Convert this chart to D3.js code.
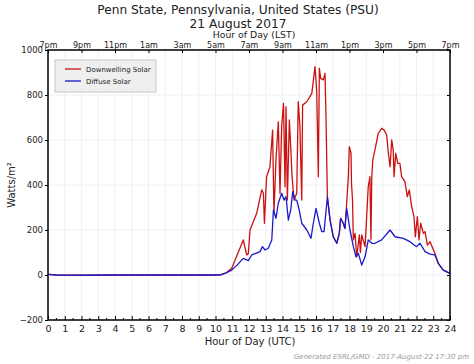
<!DOCTYPE html>
<html>
<head>
<meta charset="utf-8">
<script src="https://cdn.jsdelivr.net/npm/d3@7"></script>
<style>
  body { margin: 0; background: #fff; }
  svg text { font-family: "DejaVu Sans", sans-serif; fill: #222; }
</style>
</head>
<body>
<div id="wrapper"></div>
<script>
// data: [hour UTC, W/m2]
const downwelling = [
  [0, 3], [0.5, 0], [2, -1], [4, 0], [6, 0], [8, 0], [10, 0], [10.3, 1], [10.6, 8],
  [10.97, 30], [11.3, 90], [11.66, 156], [11.86, 89], [11.96, 95], [12.06, 200],
  [12.46, 274], [12.76, 378], [12.86, 363], [12.92, 230], [13.05, 437], [13.25, 481],
  [13.41, 644], [13.49, 274], [13.61, 511], [13.75, 681], [13.85, 363], [13.95, 659],
  [14.06, 763], [14.15, 392], [14.21, 748], [14.29, 333], [14.41, 689], [14.49, 570],
  [14.57, 437], [14.69, 333], [14.85, 363], [14.94, 770], [15.04, 659], [15.15, 333],
  [15.2, 755], [15.45, 770], [15.75, 807], [15.94, 926], [16.04, 822], [16.14, 437],
  [16.2, 919], [16.28, 874], [16.44, 867], [16.54, 896], [16.6, 689], [16.68, 348],
  [16.84, 244], [17.03, 170], [17.24, 141], [17.39, 185], [17.47, 252], [17.63, 230],
  [17.73, 207], [17.83, 319], [17.93, 437], [17.99, 570], [18.09, 541], [18.12, 407],
  [18.18, 333], [18.23, 156], [18.33, 185], [18.43, 81], [18.59, 178], [18.65, 100],
  [18.73, 178], [18.93, 126], [19.03, 267], [19.12, 392], [19.22, 437], [19.28, 156],
  [19.33, 437], [19.39, 511], [19.52, 556], [19.72, 630], [19.92, 652], [20.07, 644],
  [20.22, 622], [20.32, 541], [20.42, 481], [20.52, 600], [20.61, 556], [20.66, 437],
  [20.76, 541], [20.88, 496], [21.01, 496], [21.11, 437], [21.31, 415], [21.45, 348],
  [21.57, 378], [21.71, 304], [21.85, 259], [21.93, 170], [22.05, 259], [22.15, 156],
  [22.25, 230], [22.41, 185], [22.51, 193], [22.65, 133], [22.81, 148], [22.97, 119],
  [23.1, 96], [23.3, 52], [23.6, 22], [24, 7]
]

const diffuse = [
  [0, 3], [0.5, 0], [2, -1], [4, 0], [6, 0], [8, 0], [10, 0], [10.3, 1], [10.6, 8],
  [10.97, 22], [11.3, 45], [11.66, 74], [11.96, 64], [12.16, 89], [12.66, 104],
  [12.8, 126], [12.96, 111], [13.15, 119], [13.36, 156], [13.46, 289], [13.61, 252],
  [13.75, 319], [13.95, 363], [14.09, 333], [14.21, 348], [14.35, 244], [14.49, 289],
  [14.61, 370], [14.75, 333], [14.85, 333], [15.0, 289], [15.15, 230], [15.45, 200],
  [15.7, 163], [15.84, 230], [16.0, 296], [16.2, 230], [16.34, 193], [16.48, 193],
  [16.68, 348], [16.84, 244], [17.03, 170], [17.24, 141], [17.39, 185], [17.47, 252],
  [17.63, 230], [17.73, 207], [17.83, 296], [18.03, 200], [18.23, 126], [18.39, 81],
  [18.53, 96], [18.73, 44], [18.93, 81], [19.12, 156], [19.33, 141], [19.52, 141],
  [19.92, 156], [20.42, 200], [20.72, 170], [21.21, 163], [21.61, 148], [22.0, 126],
  [22.21, 141], [22.51, 104], [22.81, 93], [23.1, 89], [23.3, 52], [23.6, 22], [24, 7]
]

const utcTicks = d3.range(0, 25)
const lstLabels = ["7pm", "9pm", "11pm", "1am", "3am", "5am", "7am", "9am", "11am", "1pm", "3pm", "5pm", "7pm"]
const yTicks = [-200, 0, 200, 400, 600, 800, 1000]

async function drawChart() {
  const xAccessor = d => d[0]
  const yAccessor = d => d[1]

  let dimensions = {
    width: 474,
    height: 364,
    margin: { top: 50, right: 24, bottom: 44, left: 48 }
  }
  dimensions.boundedWidth = dimensions.width - dimensions.margin.left - dimensions.margin.right
  dimensions.boundedHeight = dimensions.height - dimensions.margin.top - dimensions.margin.bottom

  const wrapper = d3.select("#wrapper")
    .append("svg")
      .attr("width", dimensions.width)
      .attr("height", dimensions.height)

  const bounds = wrapper.append("g")
    .attr("transform", `translate(${dimensions.margin.left},${dimensions.margin.top})`)

  // scales
  const xScale = d3.scaleLinear()
    .domain([0, 24])
    .range([0, dimensions.boundedWidth])

  const yScale = d3.scaleLinear()
    .domain([-200, 1000])
    .range([dimensions.boundedHeight, 0])

  // grid
  bounds.append("g").selectAll("line")
    .data(utcTicks)
    .enter().append("line")
      .attr("x1", d => xScale(d)).attr("x2", d => xScale(d))
      .attr("y1", 0).attr("y2", dimensions.boundedHeight)
      .attr("stroke", "#ececf2").attr("stroke-width", 0.8)
  bounds.append("g").selectAll("line")
    .data(yTicks)
    .enter().append("line")
      .attr("x1", 0).attr("x2", dimensions.boundedWidth)
      .attr("y1", d => yScale(d)).attr("y2", d => yScale(d))
      .attr("stroke", "#ececf2").attr("stroke-width", 0.8)

  // lines
  const lineGenerator = d3.line()
    .x(d => xScale(xAccessor(d)))
    .y(d => yScale(yAccessor(d)))

  bounds.append("path")
    .attr("d", lineGenerator(downwelling))
    .attr("fill", "none")
    .attr("stroke", "#cc1111")
    .attr("stroke-width", 1.3)
    .attr("stroke-linejoin", "round")

  bounds.append("path")
    .attr("d", lineGenerator(diffuse))
    .attr("fill", "none")
    .attr("stroke", "#1a1acc")
    .attr("stroke-width", 1.3)
    .attr("stroke-linejoin", "round")

  // axes
  const xAxis = bounds.append("g")
    .attr("transform", `translate(0,${dimensions.boundedHeight})`)
    .call(d3.axisBottom(xScale).tickValues(utcTicks).tickFormat(d3.format("d"))
      .tickSizeInner(-4).tickSizeOuter(0).tickPadding(5))
  xAxis.select(".domain").remove()
  xAxis.selectAll(".tick line").attr("stroke", "#000")
  xAxis.selectAll("text").attr("font-size", 9.5).style("fill", "#222")

  // minor ticks
  bounds.append("g").selectAll("line")
    .data(d3.range(0.5, 24, 1))
    .enter().append("line")
      .attr("x1", d => xScale(d)).attr("x2", d => xScale(d))
      .attr("y1", dimensions.boundedHeight).attr("y2", dimensions.boundedHeight - 2)
      .attr("stroke", "#000")

  const topAxis = bounds.append("g")
    .call(d3.axisTop(xScale).tickValues(d3.range(0, 25, 2))
      .tickFormat((d, i) => lstLabels[i]).tickSizeInner(-3).tickSizeOuter(0).tickPadding(2))
  topAxis.select(".domain").remove()
  topAxis.selectAll("text").attr("font-size", 8).style("fill", "#222")

  const yAxis = bounds.append("g")
    .call(d3.axisLeft(yScale).tickValues(yTicks)
      .tickFormat(d => d < 0 ? "\u2212" + Math.abs(d) : d)
      .tickSizeInner(3).tickSizeOuter(0).tickPadding(2))
  yAxis.select(".domain").remove()
  yAxis.selectAll("text").attr("font-size", 8.5).style("fill", "#222")

  const yAxisRight = bounds.append("g")
    .attr("transform", `translate(${dimensions.boundedWidth},0)`)
    .call(d3.axisRight(yScale).tickValues(yTicks).tickFormat("")
      .tickSizeInner(-3).tickSizeOuter(0))
  yAxisRight.select(".domain").remove()

  // frame
  bounds.append("rect")
    .attr("width", dimensions.boundedWidth)
    .attr("height", dimensions.boundedHeight)
    .attr("fill", "none")
    .attr("stroke", "#000")
    .attr("stroke-width", 1.5)

  // legend
  const legend = bounds.append("g")
    .attr("transform", "translate(7,10)")
  legend.append("rect")
    .attr("width", 101).attr("height", 32)
    .attr("fill", "#efefef").attr("stroke", "#bbb").attr("stroke-width", 0.8)
  const legendItems = [["Downwelling Solar", "#cc1111"], ["Diffuse Solar", "#1a1acc"]]
  legendItems.forEach(([label, color], i) => {
    legend.append("line")
      .attr("x1", 10).attr("x2", 26)
      .attr("y1", 9 + i * 12).attr("y2", 9 + i * 12)
      .attr("stroke", color).attr("stroke-width", 1.3)
    legend.append("text")
      .attr("x", 31).attr("y", 12 + i * 12)
      .attr("font-size", 7)
      .text(label)
  })

  // titles
  wrapper.append("text")
    .attr("x", 238).attr("y", 13.5)
    .attr("text-anchor", "middle").attr("font-size", 12.2)
    .text("Penn State, Pennsylvania, United States (PSU)")
  wrapper.append("text")
    .attr("x", 238).attr("y", 27.5)
    .attr("text-anchor", "middle").attr("font-size", 12.2)
    .text("21 August 2017")
  wrapper.append("text")
    .attr("x", 254).attr("y", 38)
    .attr("text-anchor", "middle").attr("font-size", 9.3)
    .text("Hour of Day (LST)")
  wrapper.append("text")
    .attr("x", 250).attr("y", 344.5)
    .attr("text-anchor", "middle").attr("font-size", 10)
    .text("Hour of Day (UTC)")
  wrapper.append("text")
    .attr("transform", `translate(15,${dimensions.margin.top + dimensions.boundedHeight / 2}) rotate(-90)`)
    .attr("text-anchor", "middle").attr("font-size", 10)
    .text("Watts/m²")
  wrapper.append("text")
    .attr("x", 469).attr("y", 359)
    .attr("text-anchor", "end").attr("font-size", 7)
    .attr("font-style", "italic")
    .style("fill", "#999")
    .text("Generated ESRL/GMD - 2017-August-22 17:30 pm")
}

drawChart()
</script>
</body>
</html>
